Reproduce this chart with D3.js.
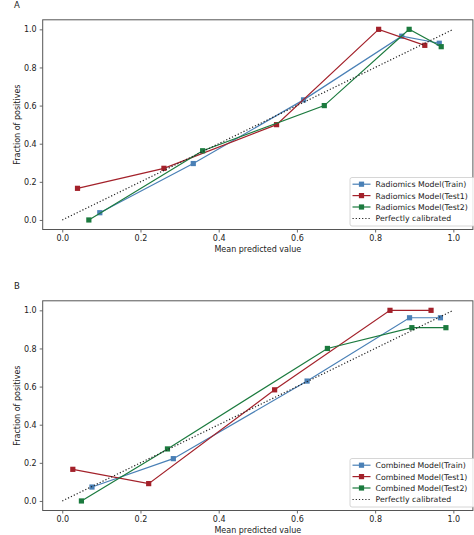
<!DOCTYPE html>
<html><head><meta charset="utf-8">
<script src="https://cdn.jsdelivr.net/npm/d3@7"></script>
<style>html,body{margin:0;padding:0;background:#fff;}svg{display:block;font-family:"DejaVu Sans",sans-serif;}</style>
</head><body>
<svg id="chart" width="474" height="535"></svg>
<script>
const xTicks = [0.0, 0.2, 0.4, 0.6, 0.8, 1.0];
const yTicks = [0.0, 0.2, 0.4, 0.6, 0.8, 1.0];
const panelLabels = ["A", "B"];
const seriesNamesA = ["Radiomics Model(Train)", "Radiomics Model(Test1)", "Radiomics Model(Test2)"];
const seriesNamesB = ["Combined Model(Train)", "Combined Model(Test1)", "Combined Model(Test2)"];
const refName = "Perfectly calibrated";
const xLabel = "Mean predicted value";
const yLabel = "Fraction of positives";

// Panel A
const aTrainX = [0.096, 0.335, 0.617, 0.868, 0.964];
const aTrainY = [0.038, 0.296, 0.630, 0.964, 0.927];
const aTest1X = [0.039, 0.260, 0.548, 0.809, 0.927];
const aTest1Y = [0.166, 0.271, 0.500, 1.000, 0.916];
const aTest2X = [0.068, 0.359, 0.670, 0.887, 0.969];
const aTest2Y = [0.000, 0.363, 0.600, 1.000, 0.909];
// Panel B
const bTrainX = [0.076, 0.284, 0.626, 0.888, 0.967];
const bTrainY = [0.073, 0.222, 0.629, 0.961, 0.961];
const bTest1X = [0.027, 0.221, 0.543, 0.838, 0.943];
const bTest1Y = [0.166, 0.091, 0.583, 1.000, 1.000];
const bTest2X = [0.049, 0.269, 0.678, 0.894, 0.981];
const bTest2Y = [0.000, 0.273, 0.800, 0.909, 0.909];

const colors = ["#4a80b6", "#a3212a", "#1b7a3e"];

const svg = d3.select("#chart");
const fmt = d3.format(".1f");

function panel(top, label, names, xs, ys) {
  const left = 42.7, right = 472.9, bottom = top + 209.7;
  const x = d3.scaleLinear().domain([-0.05, 1.05]).range([left, right]);
  const y = d3.scaleLinear().domain([-0.05, 1.05]).range([bottom, top]);
  const g = svg.append("g");

  g.append("text").attr("x", 14).attr("y", top - 12).attr("font-size", 8.5).attr("fill", "#222").text(label);

  // axes
  const xa = g.append("g").attr("transform", `translate(0,${bottom})`)
    .call(d3.axisBottom(x).tickValues(xTicks).tickFormat(fmt).tickSize(3).tickPadding(3));
  const ya = g.append("g").attr("transform", `translate(${left},0)`)
    .call(d3.axisLeft(y).tickValues(yTicks).tickFormat(fmt).tickSize(3).tickPadding(3));
  [xa, ya].forEach(a => {
    a.select(".domain").remove();
    a.selectAll("text").attr("font-size", 8).attr("fill", "#222").attr("font-family", "DejaVu Sans");
    a.selectAll("line").attr("stroke", "#444").attr("stroke-width", 0.8);
  });
  g.append("rect").attr("x", left).attr("y", top).attr("width", right - left).attr("height", bottom - top)
    .attr("fill", "none").attr("stroke", "#555").attr("stroke-width", 1);

  g.append("text").attr("x", (left + right) / 2).attr("y", bottom + 22).attr("text-anchor", "middle")
    .attr("font-size", 8).attr("fill", "#222").text(xLabel);
  g.append("text").attr("transform", `translate(${20},${(top + bottom) / 2}) rotate(-90)`)
    .attr("text-anchor", "middle").attr("font-size", 8).attr("fill", "#222").text(yLabel);

  const line = d3.line().x(d => x(d[0])).y(d => y(d[1]));
  names.forEach((n, i) => {
    const pts = xs[i].map((v, j) => [v, ys[i][j]]);
    g.append("path").attr("d", line(pts)).attr("fill", "none").attr("stroke", colors[i]).attr("stroke-width", 1.2);
    g.selectAll(null).data(pts).enter().append("rect")
      .attr("x", d => x(d[0]) - 2.6).attr("y", d => y(d[1]) - 2.6)
      .attr("width", 5.2).attr("height", 5.2).attr("fill", colors[i]);
  });
  g.append("path").attr("d", line([[0, 0], [1, 1]])).attr("fill", "none").attr("stroke", "#222")
    .attr("stroke-width", 1.2).attr("stroke-dasharray", "1.2,2");

  // legend
  const lg = g.append("g");
  lg.append("rect").attr("x", 350).attr("y", bottom - 52).attr("width", 140).attr("height", 48.5)
    .attr("rx", 2).attr("fill", "#fff").attr("fill-opacity", 0.85).attr("stroke", "#ccc").attr("stroke-width", 0.8);
  const rows = [-45.3, -33.9, -22.5, -11.0];
  names.forEach((n, i) => {
    const yy = bottom + rows[i];
    lg.append("line").attr("x1", 352.5).attr("x2", 370.5).attr("y1", yy).attr("y2", yy)
      .attr("stroke", colors[i]).attr("stroke-width", 1.2);
    lg.append("rect").attr("x", 361.5 - 2.6).attr("y", yy - 2.6).attr("width", 5.2).attr("height", 5.2).attr("fill", colors[i]);
    lg.append("text").attr("x", 375.5).attr("y", yy + 2.9).attr("font-size", 7.8).attr("fill", "#222").text(n);
  });
  const yr = bottom + rows[3];
  lg.append("line").attr("x1", 352.5).attr("x2", 370.5).attr("y1", yr).attr("y2", yr)
    .attr("stroke", "#222").attr("stroke-width", 1.2).attr("stroke-dasharray", "1.2,2");
  lg.append("text").attr("x", 375.5).attr("y", yr + 2.9).attr("font-size", 7.8).attr("fill", "#222").text(refName);
}

panel(19.8, panelLabels[0], seriesNamesA, [aTrainX, aTest1X, aTest2X], [aTrainY, aTest1Y, aTest2Y]);
panel(300.8, panelLabels[1], seriesNamesB, [bTrainX, bTest1X, bTest2X], [bTrainY, bTest1Y, bTest2Y]);
</script>
</body></html>
